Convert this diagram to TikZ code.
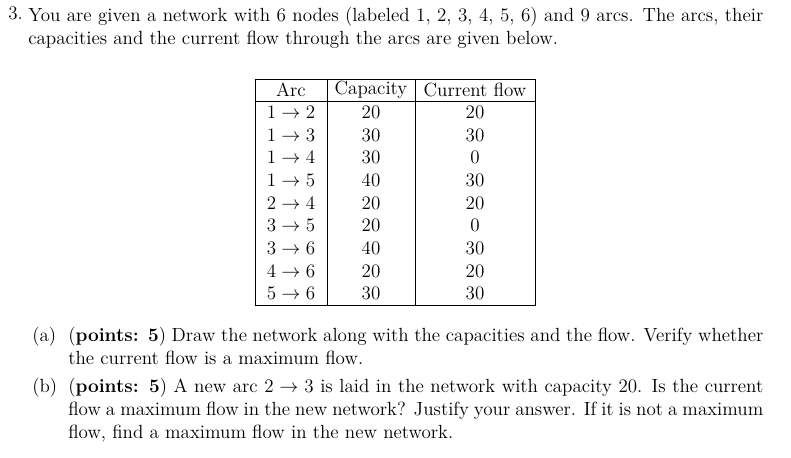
\documentclass[tikz,border=0pt]{standalone}
\begin{document}
\begin{tikzpicture}[x=0.63pt,y=-0.63pt,
  txt/.style={inner sep=0pt,anchor=north west,align=justify,font=\fontsize{12}{14.6}\selectfont},
  cell/.style={inner sep=0pt,font=\fontsize{12}{14.6}\selectfont}]
\useasboundingbox (0,0) rectangle (791,457);
\node[txt] (n3) at (8,7) {3.};
\node[txt,text width=735*0.63pt] (p) at (28,7) {You are given a network with 6 nodes (labeled 1, 2, 3, 4, 5, 6) and 9 arcs. The arcs, their capacities and the current flow through the arcs are given below.};
% table
\draw (255,79) rectangle (535,305);
\draw (255,101) -- (535,101);
\draw (327,79) -- (327,305);
\draw (415,79) -- (415,305);
\node[cell] (h1) at (291,90) {Arc};
\node[cell] (h2) at (371,90) {Capacity};
\node[cell] (h3) at (475,90) {Current flow};
\foreach \a/\c/\f [count=\i] in {{1\to2}/20/20,{1\to3}/30/30,{1\to4}/30/0,{1\to5}/40/30,{2\to4}/20/20,{3\to5}/20/0,{3\to6}/40/30,{4\to6}/20/20,{5\to6}/30/30}{
  \node[cell] (a\i) at (291,{101+22.67*(\i-0.5)}) {$\a$};
  \node[cell] (c\i) at (371,{101+22.67*(\i-0.5)}) {\c};
  \node[cell] (f\i) at (475,{101+22.67*(\i-0.5)}) {\f};
}
\node[txt] (la) at (32,327) {(a)};
\node[txt,text width=695*0.63pt] (ta) at (68,327) {(\textbf{points: 5}) Draw the network along with the capacities and the flow. Verify whether the current flow is a maximum flow.};
\node[txt] (lb) at (32,378) {(b)};
\node[txt,text width=695*0.63pt] (tb) at (68,378) {(\textbf{points: 5}) A new arc $2\to3$ is laid in the network with capacity 20. Is the current flow a maximum flow in the new network? Justify your answer. If it is not a maximum flow, find a maximum flow in the new network.};
\end{tikzpicture}
\end{document}
